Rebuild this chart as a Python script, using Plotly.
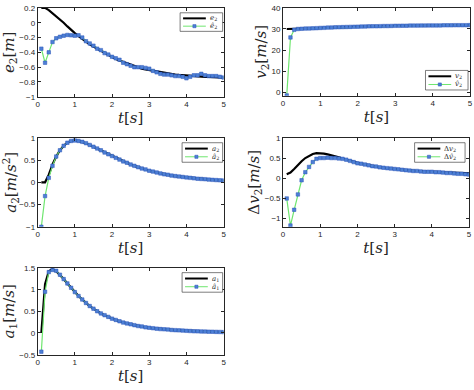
import plotly.graph_objects as go

t = [round(0.1 * i, 1) for i in range(1, 51)]

e2_true = [0.20, 0.20, 0.17, 0.13, 0.09, 0.05, 0.00, -0.05, -0.10, -0.14,
           -0.18, -0.22, -0.26, -0.29, -0.32, -0.35, -0.38, -0.41, -0.44, -0.47,
           -0.49, -0.51, -0.53, -0.55, -0.57, -0.59, -0.60, -0.62, -0.63, -0.64,
           -0.65, -0.66, -0.67, -0.68, -0.685, -0.69, -0.70, -0.705, -0.71, -0.715,
           -0.72, -0.72, -0.725, -0.725, -0.73, -0.73, -0.73, -0.735, -0.735, -0.74]
e2_est = [-0.35, -0.54, -0.40, -0.26, -0.21, -0.19, -0.175, -0.165, -0.17, -0.175,
          -0.17, -0.20, -0.25, -0.28, -0.31, -0.35, -0.37, -0.41, -0.43, -0.46,
          -0.48, -0.50, -0.54, -0.56, -0.58, -0.60, -0.60, -0.60, -0.61, -0.62,
          -0.65, -0.67, -0.69, -0.70, -0.70, -0.71, -0.72, -0.72, -0.73, -0.75,
          -0.73, -0.71, -0.71, -0.69, -0.71, -0.72, -0.72, -0.72, -0.73, -0.74]

v2_true = [30.0, 30.0, 30.0, 30.05, 30.1, 30.2, 30.25, 30.3, 30.4, 30.5,
           30.55, 30.65, 30.7, 30.8, 30.85, 30.9, 30.95, 31.0, 31.05, 31.1,
           31.15, 31.2, 31.25, 31.3, 31.3, 31.35, 31.4, 31.4, 31.45, 31.5,
           31.5, 31.55, 31.55, 31.6, 31.6, 31.6, 31.65, 31.65, 31.7, 31.7,
           31.7, 31.7, 31.75, 31.75, 31.75, 31.8, 31.8, 31.8, 31.8, 31.85]
v2_est = [-1.5, 26.0, 29.6, 30.0, 30.1, 30.2, 30.25, 30.3, 30.4, 30.5,
          30.55, 30.65, 30.7, 30.8, 30.85, 30.9, 30.95, 31.0, 31.05, 31.1,
          31.15, 31.2, 31.25, 31.3, 31.3, 31.35, 31.4, 31.4, 31.45, 31.5,
          31.5, 31.55, 31.55, 31.6, 31.6, 31.6, 31.65, 31.65, 31.7, 31.7,
          31.7, 31.7, 31.75, 31.75, 31.75, 31.8, 31.8, 31.8, 31.8, 31.85]

a2_true = [0.0, 0.0, 0.17, 0.40, 0.58, 0.72, 0.82, 0.89, 0.93, 0.94,
           0.93, 0.91, 0.88, 0.84, 0.80, 0.76, 0.72, 0.67, 0.63, 0.59,
           0.55, 0.51, 0.47, 0.44, 0.40, 0.37, 0.34, 0.31, 0.29, 0.26,
           0.24, 0.22, 0.20, 0.18, 0.17, 0.15, 0.14, 0.13, 0.12, 0.11,
           0.10, 0.09, 0.08, 0.075, 0.07, 0.06, 0.055, 0.05, 0.045, 0.04]
a2_est = [-1.0, -0.31, 0.10, 0.37, 0.58, 0.72, 0.82, 0.89, 0.93, 0.94,
          0.93, 0.91, 0.88, 0.84, 0.80, 0.76, 0.72, 0.67, 0.63, 0.59,
          0.55, 0.51, 0.47, 0.44, 0.40, 0.37, 0.34, 0.31, 0.29, 0.26,
          0.24, 0.22, 0.20, 0.18, 0.17, 0.15, 0.14, 0.13, 0.12, 0.11,
          0.10, 0.09, 0.08, 0.075, 0.07, 0.06, 0.055, 0.05, 0.045, 0.04]

dv2_true = [0.10, 0.14, 0.23, 0.33, 0.42, 0.50, 0.56, 0.60, 0.62, 0.62,
            0.61, 0.59, 0.57, 0.55, 0.52, 0.49, 0.46, 0.43, 0.40, 0.38,
            0.36, 0.34, 0.32, 0.30, 0.29, 0.27, 0.26, 0.25, 0.24, 0.23,
            0.22, 0.21, 0.20, 0.20, 0.19, 0.18, 0.18, 0.17, 0.17, 0.16,
            0.16, 0.15, 0.15, 0.14, 0.14, 0.14, 0.13, 0.13, 0.13, 0.12]
dv2_est = [-0.50, -1.17, -0.78, -0.40, -0.05, 0.15, 0.28, 0.40, 0.48, 0.50,
           0.50, 0.51, 0.50, 0.50, 0.49, 0.48, 0.46, 0.43, 0.40, 0.37,
           0.36, 0.34, 0.32, 0.30, 0.29, 0.27, 0.26, 0.25, 0.24, 0.23,
           0.22, 0.21, 0.20, 0.19, 0.18, 0.18, 0.17, 0.16, 0.16, 0.16,
           0.15, 0.15, 0.14, 0.13, 0.13, 0.12, 0.11, 0.11, 0.10, 0.09]

a1_true = [0.0, 1.12, 1.42, 1.47, 1.42, 1.34, 1.24, 1.14, 1.04, 0.94,
           0.85, 0.77, 0.69, 0.62, 0.56, 0.50, 0.45, 0.41, 0.37, 0.33,
           0.30, 0.27, 0.24, 0.22, 0.20, 0.18, 0.16, 0.15, 0.13, 0.12,
           0.11, 0.10, 0.09, 0.085, 0.08, 0.07, 0.065, 0.06, 0.055, 0.05,
           0.045, 0.04, 0.038, 0.035, 0.032, 0.03, 0.028, 0.025, 0.023, 0.02]
a1_est = [-0.43, 0.95, 1.40, 1.45, 1.43, 1.34, 1.24, 1.14, 1.04, 0.94,
          0.85, 0.77, 0.69, 0.62, 0.56, 0.50, 0.45, 0.41, 0.37, 0.33,
          0.30, 0.27, 0.24, 0.22, 0.20, 0.18, 0.16, 0.15, 0.13, 0.12,
          0.11, 0.10, 0.09, 0.085, 0.08, 0.07, 0.065, 0.06, 0.055, 0.05,
          0.045, 0.04, 0.038, 0.035, 0.032, 0.03, 0.028, 0.025, 0.023, 0.02]

x_ticks = [0, 1, 2, 3, 4, 5]

W, H = 474, 390
GREEN = "#6fe66f"
BLUE = "#4d7fd6"
BLUE_EDGE = "#2a55b8"

panels = [
    dict(true=e2_true, est=e2_est, box=(36, 224, 4, 95),
         yrange=[-1, 0.2], yticks=[-1, -0.8, -0.6, -0.4, -0.2, 0, 0.2],
         ytitle="<i>e</i><sub>2</sub>[<i>m</i>]",
         names=("<i>e</i><sub>2</sub>", "<i>ê</i><sub>2</sub>"),
         leg=(180, 223, 9, 28)),
    dict(true=v2_true, est=v2_est, box=(284, 473, 4, 94),
         yrange=[-1.7, 40], yticks=[0, 10, 20, 30, 40],
         ytitle="<i>v</i><sub>2</sub>[<i>m</i>/<i>s</i>]",
         names=("<i>v</i><sub>2</sub>", "<i>v̂</i><sub>2</sub>"),
         leg=(428, 471, 68, 88)),
    dict(true=a2_true, est=a2_est, box=(36, 224, 137, 228),
         yrange=[-1, 1], yticks=[-1, -0.5, 0, 0.5, 1],
         ytitle="<i>a</i><sub>2</sub>[<i>m</i>/<i>s</i><sup>2</sup>]",
         names=("<i>a</i><sub>2</sub>", "<i>â</i><sub>2</sub>"),
         leg=(182, 223, 142, 162)),
    dict(true=dv2_true, est=dv2_est, box=(284, 472, 137, 228),
         yrange=[-1.2, 1], yticks=[-1, -0.5, 0, 0.5, 1],
         ytitle="Δ<i>v</i><sub>2</sub>[<i>m</i>/<i>s</i>]",
         names=("Δ<i>v</i><sub>2</sub>", "Δ<i>v̂</i><sub>2</sub>"),
         leg=(417, 468, 142, 162)),
    dict(true=a1_true, est=a1_est, box=(36, 224, 270, 359),
         yrange=[-0.5, 1.5], yticks=[-0.5, 0, 0.5, 1, 1.5],
         ytitle="<i>a</i><sub>1</sub>[<i>m</i>/<i>s</i>]",
         names=("<i>a</i><sub>1</sub>", "<i>â</i><sub>1</sub>"),
         leg=(182, 223, 275, 295)),
]

fig = go.Figure()
layout = dict(width=W, height=H, margin=dict(l=0, r=0, t=0, b=0),
              paper_bgcolor="white", plot_bgcolor="white", showlegend=False)

axcol = "#262626"
tickfont = dict(family="Liberation Sans, Arial, sans-serif", size=8, color=axcol)
titlefont = dict(family="DejaVu Serif, serif", size=15, color=axcol)
legfont = dict(family="DejaVu Serif, serif", size=7, color=axcol)

shapes = []
annotations = []


def px(x):
    return x / W


def py(y):
    return 1 - y / H


for i, p in enumerate(panels, start=1):
    sfx = "" if i == 1 else str(i)
    x0, x1, y0, y1 = p["box"]
    fig.add_trace(go.Scatter(x=t, y=p["true"], mode="lines",
                             line=dict(color="black", width=2.2),
                             name=p["names"][0],
                             xaxis="x" + sfx, yaxis="y" + sfx))
    fig.add_trace(go.Scatter(x=t, y=p["est"], mode="lines+markers",
                             line=dict(color=GREEN, width=1.2),
                             marker=dict(symbol="square", size=3.5, color=BLUE,
                                         line=dict(color=BLUE_EDGE, width=0.5)),
                             name=p["names"][1],
                             xaxis="x" + sfx, yaxis="y" + sfx))
    common = dict(showline=True, linecolor=axcol, linewidth=0.8, mirror="ticks",
                  ticks="inside", ticklen=3, tickcolor=axcol, tickwidth=0.8,
                  showgrid=False, zeroline=False, tickfont=tickfont)
    layout["xaxis" + sfx] = dict(common, domain=[px(x0), px(x1)], range=[0, 5],
                                 tickvals=x_ticks, anchor="y" + sfx,
                                 title=dict(text="<i>t</i>[<i>s</i>]", font=titlefont, standoff=4))
    layout["yaxis" + sfx] = dict(common, domain=[py(y1), py(y0)], range=p["yrange"],
                                 tickvals=p["yticks"], anchor="x" + sfx,
                                 title=dict(text=p["ytitle"], font=titlefont, standoff=1))

    # hand-drawn compact legend (MATLAB style)
    lx0, lx1, ly0, ly1 = p["leg"]
    shapes.append(dict(type="rect", xref="paper", yref="paper",
                       x0=px(lx0), x1=px(lx1), y0=py(ly1), y1=py(ly0),
                       line=dict(color=axcol, width=0.6), fillcolor="white", layer="above"))
    r1 = ly0 + (ly1 - ly0) * 0.3
    r2 = ly0 + (ly1 - ly0) * 0.72
    sx0, sx1 = lx0 + 3, lx0 + 26
    shapes.append(dict(type="line", xref="paper", yref="paper",
                       x0=px(sx0), x1=px(sx1), y0=py(r1), y1=py(r1),
                       line=dict(color="black", width=2), layer="above"))
    shapes.append(dict(type="line", xref="paper", yref="paper",
                       x0=px(sx0), x1=px(sx1), y0=py(r2), y1=py(r2),
                       line=dict(color=GREEN, width=1), layer="above"))
    mc = (sx0 + sx1) / 2
    shapes.append(dict(type="rect", xref="paper", yref="paper",
                       x0=px(mc - 1.6), x1=px(mc + 1.6), y0=py(r2 + 1.6), y1=py(r2 - 1.6),
                       line=dict(color=BLUE_EDGE, width=0.5), fillcolor=BLUE, layer="above"))
    for r, name in ((r1, p["names"][0]), (r2, p["names"][1])):
        annotations.append(dict(xref="paper", yref="paper", x=px(sx1 + 2), y=py(r),
                                xanchor="left", yanchor="middle", showarrow=False,
                                text=name, font=legfont))

layout["shapes"] = shapes
layout["annotations"] = annotations
fig.update_layout(**layout)
fig.write_html("out.html", config={"displayModeBar": False},
               post_script="document.body.style.margin='0';document.body.style.padding='0';")
